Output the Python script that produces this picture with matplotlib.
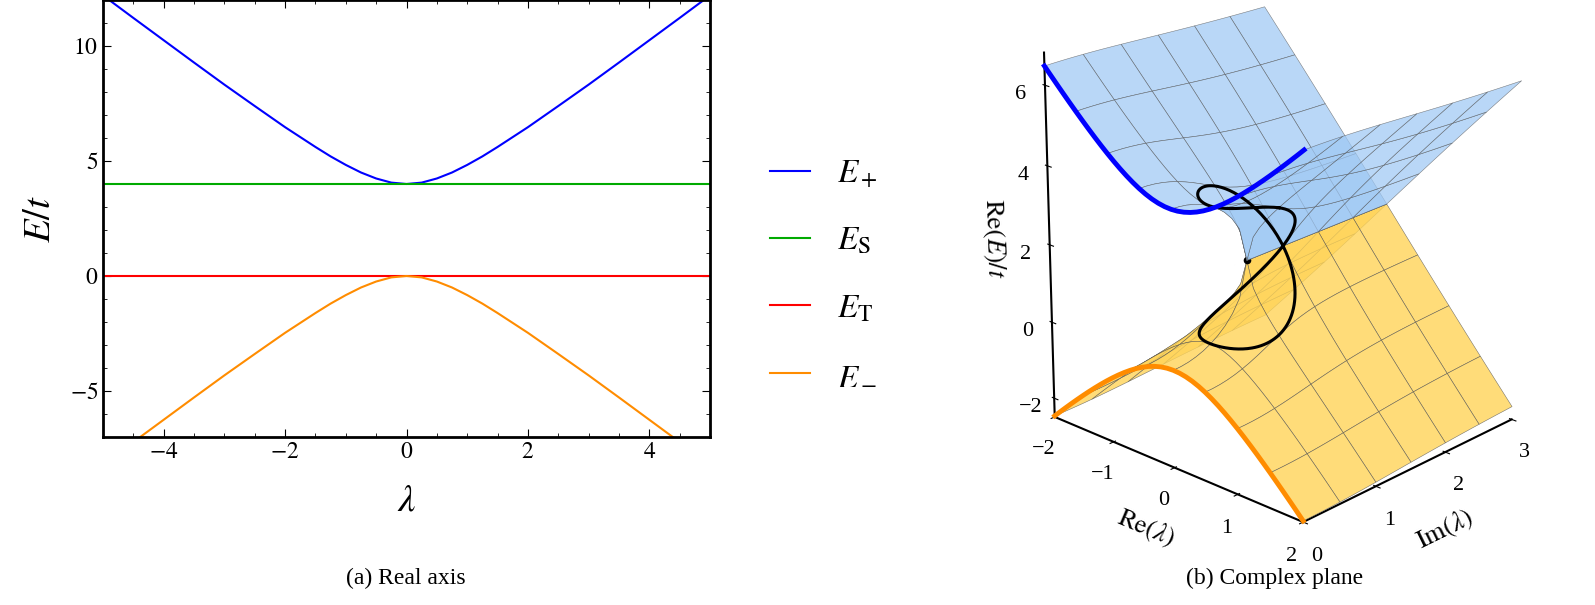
import numpy as np
import matplotlib
matplotlib.use("Agg")
import matplotlib.pyplot as plt
from matplotlib.lines import Line2D

plt.rcParams['font.family'] = ['Liberation Serif', 'DejaVu Serif']
plt.rcParams['mathtext.fontset'] = 'stix'

# data
lam = [-5, -4.5, -4, -3.5, -3, -2.5, -2, -1.5, -1.25, -1, -0.75, -0.5, -0.25, 0,
       0.25, 0.5, 0.75, 1, 1.25, 1.5, 2, 2.5, 3, 3.5, 4, 4.5, 5]
e_plus = [12.2, 11.22, 10.25, 9.28, 8.32, 7.39, 6.47, 5.61, 5.2, 4.83, 4.5, 4.24, 4.06, 4.0,
          4.06, 4.24, 4.5, 4.83, 5.2, 5.61, 6.47, 7.39, 8.32, 9.28, 10.25, 11.22, 12.2]
e_minus = [-8.2, -7.22, -6.25, -5.28, -4.32, -3.39, -2.47, -1.61, -1.2, -0.83, -0.5, -0.24, -0.06, 0.0,
           -0.06, -0.24, -0.5, -0.83, -1.2, -1.61, -2.47, -3.39, -4.32, -5.28, -6.25, -7.22, -8.2]
e_s = 4.0
e_t = 0.0

fig = plt.figure(figsize=(15.95, 6.05), dpi=100)
ax = fig.add_axes([103/1595, 1-437/605, 607/1595, 437/605])
ax.plot(lam, e_plus, color='#0000ff', lw=1.5)
ax.axhline(e_s, color='#00aa00', lw=1.5)
ax.axhline(e_t, color='#ff0000', lw=1.5)
ax.plot(lam, e_minus, color='#ff8c00', lw=1.5)
ax.set_xlim(-5, 5)
ax.set_ylim(-7, 12)
ax.set_xticks([-4, -2, 0, 2, 4])
ax.set_yticks([-5, 0, 5, 10])
ax.set_xticklabels(['$-4$', '$-2$', '$0$', '$2$', '$4$'])
ax.set_yticklabels(['$-5$', '$0$', '$5$', '$10$'])
ax.minorticks_on()
ax.tick_params(which='both', direction='in', top=True, right=True, labelsize=17)
ax.tick_params(which='major', length=6)
ax.tick_params(which='minor', length=3)
for s in ax.spines.values():
    s.set_linewidth(2)
ax.set_xlabel(r'$\lambda$', fontsize=28, labelpad=14)
ax.set_ylabel(r'$E/t$', fontsize=28, labelpad=8)
handles = [Line2D([], [], color='#0000ff', lw=1.5), Line2D([], [], color='#00aa00', lw=1.5),
           Line2D([], [], color='#ff0000', lw=1.5), Line2D([], [], color='#ff8c00', lw=1.5)]
fig.legend(handles, [r'$E_+$', r'$E_\mathrm{S}$', r'$E_\mathrm{T}$', r'$E_-$'],
           loc='center left', bbox_to_anchor=(740/1595, 1-275/605), frameon=False,
           fontsize=24, handlelength=1.2, labelspacing=1.1)
fig.text(406/1595, 1-578/605, '(a) Real axis', ha='center', va='center', fontsize=17)
fig.text(1275/1595, 1-578/605, '(b) Complex plane', ha='center', va='center', fontsize=17)

# 3D surface of Re(E) over complex lambda
ax3 = fig.add_axes([915/1595, 0.10, 720/1595, 0.98], projection='3d', computed_zorder=False)
re_l = np.linspace(-2, 2, 41)
im_l = np.linspace(0, 3, 31)
X, Y = np.meshgrid(re_l, im_l)
S = np.sqrt(1 + (X + 1j * Y)**2)
ax3.plot_surface(X, Y, np.real(2 - 2 * S), color='#ffd458', alpha=0.8, rstride=5, cstride=5,
                 edgecolor='#555555', linewidth=0.4, shade=False)
ax3.plot(re_l, np.zeros_like(re_l), np.real(2 - 2 * np.sqrt(1 + re_l**2)), color='#ff8c00', lw=3.5)
th = np.linspace(0, 4 * np.pi, 400)
lc = 1j + 0.5 * np.exp(1j * th)
sq = np.sqrt(1 + lc**2)
for i in range(1, len(sq)):
    if abs(sq[i] - sq[i-1]) > abs(-sq[i] - sq[i-1]):
        sq[i:] = -sq[i:]
ec = np.real(2 + 2 * sq)
ax3.plot(np.real(lc), np.imag(lc), ec, color='k', lw=2.2)
ax3.scatter([0], [1], [2], color='k', s=20)
ax3.plot_surface(X, Y, np.real(2 + 2 * S), color='#9ec8f4', alpha=0.72, rstride=5, cstride=5,
                 edgecolor='#555555', linewidth=0.4, shade=False)
ax3.plot(re_l, np.zeros_like(re_l), np.real(2 + 2 * np.sqrt(1 + re_l**2)), color='#0000ff', lw=3.5)
ax3.set_xlim(-2, 2)
ax3.set_ylim(0, 3)
ax3.set_zlim(-2.5, 6.8)
ax3.set_xticks([-2, -1, 0, 1, 2])
ax3.set_yticks([0, 1, 2, 3])
ax3.set_zticks([-2, 0, 2, 4, 6])
ax3.tick_params(labelsize=16)
ax3.set_xlabel(r'$\mathrm{Re}(\lambda)$', fontsize=19, labelpad=8)
ax3.set_ylabel(r'$\mathrm{Im}(\lambda)$', fontsize=19, labelpad=8)
ax3.set_zlabel(r'$\mathrm{Re}(E)/t$', fontsize=19, labelpad=6)
for a in (ax3.xaxis, ax3.yaxis, ax3.zaxis):
    a.set_pane_color((1, 1, 1, 0))
    a._axinfo['grid']['linewidth'] = 0
    a.line.set_linewidth(1.5)
ax3.zaxis._axinfo['juggled'] = (1, 2, 0)
ax3.view_init(elev=22, azim=-47)
ax3.set_box_aspect((1.1, 1, 1.25))
fig.savefig('out.png', dpi=100)
